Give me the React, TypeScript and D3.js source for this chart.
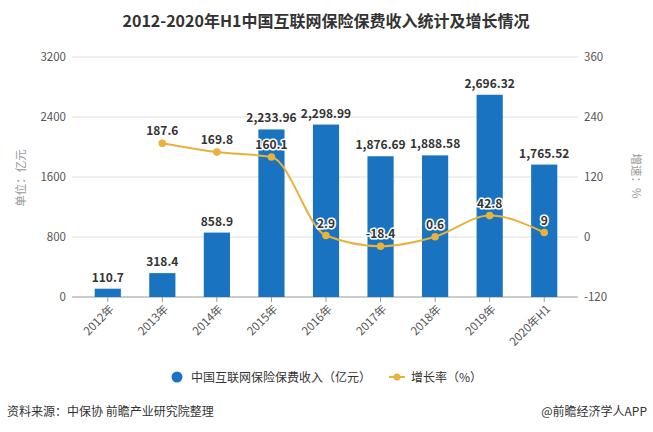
import React from "react";
import * as d3 from "d3";

const categories = ["2012年", "2013年", "2014年", "2015年", "2016年", "2017年", "2018年", "2019年", "2020年H1"];
const premiumValues = [110.7, 318.4, 858.9, 2233.96, 2298.99, 1876.69, 1888.58, 2696.32, 1765.52];
const growthValues: (number | null)[] = [null, 187.6, 169.8, 160.1, 2.9, -18.4, 0.6, 42.8, 9];
const leftTicks = [0, 800, 1600, 2400, 3200];
const rightTicks = [-120, 0, 120, 240, 360];

const W = 653;
const H = 432;
const FONT = "'Microsoft YaHei', 'Noto Sans CJK SC', 'Noto Sans', sans-serif";
const BAR = "#1a73c0";
const LINE = "#e8b23c";

export default function App() {
  const gridX0 = 72;
  const gridX1 = 578;
  const yTop = 57;
  const yBottom = 297;

  const x = d3.scaleBand<string>().domain(categories).range([80.5, 571.5]).paddingInner(0.52).paddingOuter(0.26);
  const xc = (c: string) => (x(c) as number) + x.bandwidth() / 2;
  const yL = d3.scaleLinear().domain([0, 3200]).range([yBottom, yTop]);
  const yR = d3.scaleLinear().domain([-120, 360]).range([yBottom, yTop]);

  const fmt = d3.format(",.2f");
  const barLabel = (v: number) => (Number.isInteger(v * 10) && v < 1000 ? String(v) : fmt(v));

  const pts = categories
    .map((c, i) => ({ c, v: growthValues[i] }))
    .filter((d) => d.v !== null) as { c: string; v: number }[];
  const line = d3
    .line<{ c: string; v: number }>()
    .x((d) => xc(d.c))
    .y((d) => yR(d.v))
    .curve(d3.curveMonotoneX);

  return (
    <svg width={W} height={H} style={{ display: "block", position: "absolute", left: 0, top: 0, background: "#fff" }} fontFamily={FONT}>
      <rect width={W} height={H} fill="#fff" />
      <text x={326} y={27} textAnchor="middle" fontSize={16} fontWeight="bold" fill="#333">
        2012-2020年H1中国互联网保险保费收入统计及增长情况
      </text>

      {/* grid lines */}
      {leftTicks.map((t) => (
        <line key={t} x1={gridX0} x2={gridX1} y1={yL(t)} y2={yL(t)} stroke={t === 0 ? "#999" : "#e0e0e0"} strokeWidth={1} />
      ))}

      {/* left axis labels */}
      {leftTicks.map((t) => (
        <text key={t} x={66} y={yL(t) + 4} textAnchor="end" fontSize={11.5} fill="#555">
          {t}
        </text>
      ))}
      {/* right axis labels */}
      {rightTicks.map((t) => (
        <text key={t} x={584} y={yR(t) + 4} textAnchor="start" fontSize={11.5} fill="#555">
          {t}
        </text>
      ))}

      <text transform={`translate(25,178) rotate(-90)`} textAnchor="middle" fontSize={11.5} fill="#999">
        单位：亿元
      </text>
      <text transform={`translate(632,176) rotate(90)`} textAnchor="middle" fontSize={11.5} fill="#999">
        增速：%
      </text>

      {/* x ticks and labels */}
      {categories.map((c) => (
        <g key={c}>
          <line x1={xc(c)} x2={xc(c)} y1={yBottom} y2={yBottom + 5} stroke="#999" />
          <text
            transform={`translate(${xc(c) + 4},${yBottom + 10}) rotate(-45)`}
            textAnchor="end"
            fontSize={11.5}
            fill="#555"
            dy="0.35em"
          >
            {c}
          </text>
        </g>
      ))}

      {/* bars */}
      {categories.map((c, i) => (
        <rect
          key={c}
          x={x(c) as number}
          y={yL(premiumValues[i])}
          width={x.bandwidth()}
          height={yBottom - yL(premiumValues[i])}
          fill={BAR}
        />
      ))}
      {categories.map((c, i) => (
        <text key={c} x={xc(c)} y={yL(premiumValues[i]) - 7} textAnchor="middle" fontSize={12} fontWeight="bold" fill="#333">
          {barLabel(premiumValues[i])}
        </text>
      ))}

      {/* growth line */}
      <path d={line(pts) || ""} fill="none" stroke={LINE} strokeWidth={2} />
      {pts.map((d) => (
        <circle key={d.c} cx={xc(d.c)} cy={yR(d.v)} r={3.8} fill={LINE} />
      ))}
      {pts.map((d) => (
        <text
          key={d.c}
          x={xc(d.c)}
          y={yR(d.v) - 8}
          textAnchor="middle"
          fontSize={12}
          fontWeight="bold"
          fill="#333"
          stroke="#fff"
          strokeWidth={3}
          paintOrder="stroke"
          strokeLinejoin="round"
        >
          {d.v}
        </text>
      ))}

      {/* legend */}
      <circle cx={177} cy={377} r={5.5} fill={BAR} />
      <text x={191} y={381.5} fontSize={12} fill="#333">
        中国互联网保险保费收入（亿元）
      </text>
      <line x1={389} x2={405} y1={377} y2={377} stroke={LINE} strokeWidth={2} />
      <circle cx={397} cy={377} r={3.5} fill={LINE} />
      <text x={411} y={381.5} fontSize={12} fill="#333">
        增长率（%）
      </text>

      {/* footer */}
      <text x={7} y={416} fontSize={12} fill="#333">
        资料来源：中保协 前瞻产业研究院整理
      </text>
      <text x={647} y={416} textAnchor="end" fontSize={12} fill="#333">
        @前瞻经济学人APP
      </text>
    </svg>
  );
}
